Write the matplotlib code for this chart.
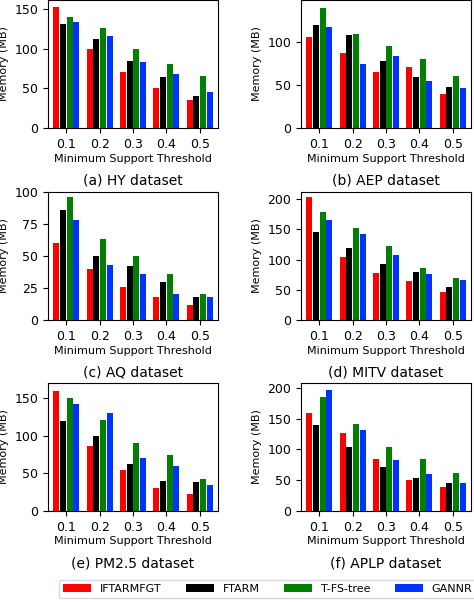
import matplotlib
matplotlib.use("Agg")
import matplotlib.pyplot as plt
import numpy as np

thresholds = ["0.1", "0.2", "0.3", "0.4", "0.5"]
methods = ["IFTARMFGT", "FTARM", "T-FS-tree", "GANNR"]
colors = ["#ff0000", "#000000", "#008000", "#0033ff"]
titles = ["(a) HY dataset", "(b) AEP dataset", "(c) AQ dataset",
          "(d) MITV dataset", "(e) PM2.5 dataset", "(f) APLP dataset"]

hy = [[153, 100, 71, 51, 36], [131, 113, 85, 65, 40], [140, 126, 100, 81, 66], [134, 116, 83, 68, 46]]
aep = [[106, 87, 65, 71, 40], [120, 108, 78, 59, 48], [140, 110, 95, 80, 61], [118, 74, 84, 55, 46]]
aq = [[60, 40, 26, 18, 12], [86, 50, 42, 30, 18], [96, 63, 50, 36, 20], [78, 43, 36, 20, 18]]
mitv = [[204, 104, 78, 65, 46], [145, 120, 92, 80, 55], [179, 153, 123, 86, 70], [165, 143, 107, 76, 66]]
pm25 = [[160, 86, 54, 30, 22], [120, 99, 62, 40, 38], [150, 121, 90, 75, 42], [142, 130, 70, 60, 34]]
aplp = [[160, 127, 84, 51, 39], [140, 104, 72, 53, 46], [185, 142, 104, 84, 61], [196, 131, 83, 60, 45]]
datasets = [hy, aep, aq, mitv, pm25, aplp]
ylims = [162, 149, 100, 212, 170, 208]
yticks = [[0, 50, 100, 150], [0, 50, 100], [0, 25, 50, 75, 100],
          [0, 50, 100, 150, 200], [0, 50, 100, 150], [0, 50, 100, 150, 200]]

fig = plt.figure(figsize=(4.74, 6.02), dpi=100)
lefts = [48 / 474, 301 / 474]
w = 170 / 474
tops = [0, 192, 383]
h = 128 / 602
x = np.arange(len(thresholds))
bw = 0.2
handles = []
for i, data in enumerate(datasets):
    r, c = divmod(i, 2)
    ax = fig.add_axes([lefts[c], 1 - (tops[r] + 128) / 602, w, h])
    for k, vals in enumerate(data):
        b = ax.bar(x + (k - 1.5) * bw, vals, bw * 0.92, color=colors[k], label=methods[k])
        if i == 0:
            handles.append(b)
    ax.set_xticks(x)
    ax.set_xticklabels(thresholds, fontsize=9)
    ax.set_yticks(yticks[i])
    ax.tick_params(labelsize=9)
    ax.set_ylim(0, ylims[i])
    ax.set_xlim(-0.55, 4.55)
    ax.set_ylabel("Memory (MB)", fontsize=8)
    ax.set_xlabel("Minimum Support Threshold", fontsize=8, labelpad=2)
    ax.text(0.5, -0.41, titles[i], transform=ax.transAxes, ha="center", va="center", fontsize=10)

fig.legend(handles, methods, loc="center", bbox_to_anchor=(0.565, 1 - 589 / 602),
           ncol=4, fontsize=8, handlelength=2.5, columnspacing=2.2, frameon=True)
fig.savefig("out.png", dpi=100)
